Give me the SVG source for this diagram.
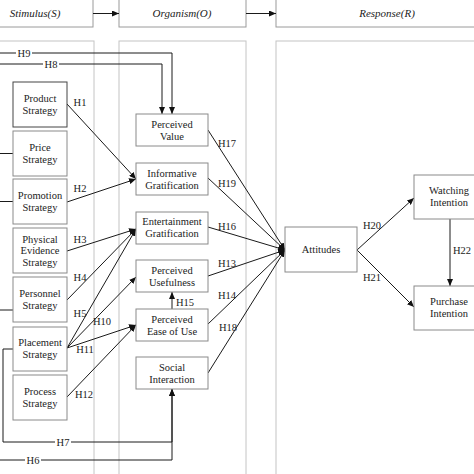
<svg xmlns="http://www.w3.org/2000/svg" width="474" height="474" viewBox="0 0 474 474">
<defs>
<marker id="ah" markerWidth="7" markerHeight="6" refX="7" refY="3" orient="auto" markerUnits="userSpaceOnUse">
<path d="M0,0 L7,3 L0,6 z" fill="#111"/>
</marker>
<style>
text{font-family:"Liberation Serif","Times New Roman",serif;font-size:10.5px;fill:#222;text-anchor:middle}
.hd{font-style:italic;font-size:11px}
.panel{fill:none;stroke:#c4c4c4;stroke-width:1}
.hbox{fill:#fff;stroke:#9a9a9a;stroke-width:1}
.node{fill:#fff;stroke:#8a8a8a;stroke-width:1}
.dark{stroke:#444}
.c{fill:none;stroke:#1a1a1a;stroke-width:1}
.a{marker-end:url(#ah)}
.lb{fill:#fff}
</style>
</defs>
<rect width="474" height="474" fill="#fff"/>

<g id="panels">
<rect class="panel" x="-5" y="41" width="99" height="440"/>
<rect class="panel" x="119" y="41" width="127" height="440"/>
<rect class="panel" x="276" y="41" width="210" height="440"/>
</g>

<g id="header">
<g id="hdr-s"><rect class="hbox" x="-5" y="-5" width="98" height="32"/><text class="hd" x="35" y="17">Stimulus(S)</text></g>
<g id="hdr-o"><rect class="hbox" x="119" y="-5" width="127" height="32"/><text class="hd" x="182" y="17">Organism(O)</text></g>
<g id="hdr-r"><rect class="hbox" x="276" y="-5" width="210" height="32"/><text class="hd" x="387" y="17">Response(R)</text></g>
</g>

<g id="connectors">
<path class="c a" d="M93,13.5 H119"/>
<path class="c a" d="M246,13.5 H276"/>
<path class="c a" d="M0,53 H172 V114"/>
<path class="c a" d="M0,64 H162 V114"/>
<path class="c" d="M0,153.5 H13"/>
<path class="c" d="M0,201.5 H13"/>
<path class="c" d="M0,310 H13"/>
<path class="c a" d="M67,104 L136,179"/>
<path class="c a" d="M67,202 L136,179"/>
<path class="c a" d="M67,251 L136,229"/>
<path class="c a" d="M67,300 L136,229"/>
<path class="c a" d="M67,348 L136,229"/>
<path class="c a" d="M67,348 L136,277"/>
<path class="c a" d="M67,348 L136,325"/>
<path class="c a" d="M67,397 L136,325"/>
<path class="c a" d="M13,349 H3 V442 H172 V389"/>
<path class="c a" d="M0,460 H172 V389"/>
<path class="c a" d="M172,309 V292"/>
<path class="c a" d="M208,130 L285,250"/>
<path class="c a" d="M208,178 L285,250"/>
<path class="c a" d="M208,227 L285,250"/>
<path class="c a" d="M208,276 L285,250"/>
<path class="c a" d="M208,324 L285,250"/>
<path class="c a" d="M208,373 L285,250"/>
<path class="c a" d="M357,250 L414,198"/>
<path class="c a" d="M357,250 L414,307"/>
<path class="c a" d="M450,219 V286"/>
</g>

<g id="labels">
<rect class="lb" x="16" y="48" width="16" height="10"/><text x="24" y="56.5">H9</text>
<rect class="lb" x="43" y="59" width="16" height="10"/><text x="51" y="67.5">H8</text>
<rect class="lb" x="55" y="437" width="16" height="10"/><text x="63" y="445.5">H7</text>
<rect class="lb" x="25" y="455" width="16" height="10"/><text x="33" y="463.5">H6</text>
<text x="80" y="105.5">H1</text>
<text x="80" y="191.5">H2</text>
<text x="80" y="242.5">H3</text>
<text x="80" y="280.5">H4</text>
<text x="80" y="316.5">H5</text>
<text x="102" y="324.5">H10</text>
<text x="85" y="352.5">H11</text>
<text x="84" y="398">H12</text>
<text x="185" y="305.5">H15</text>
<text x="227" y="146.5">H17</text>
<text x="227" y="186.5">H19</text>
<text x="227" y="229.5">H16</text>
<text x="227" y="266.5">H13</text>
<text x="227" y="298.5">H14</text>
<text x="228" y="330.5">H18</text>
<text x="372" y="228.5">H20</text>
<text x="372" y="280.5">H21</text>
<text x="462" y="253.5">H22</text>
</g>

<g id="product"><rect class="node dark" x="13" y="82" width="54" height="45"/><text x="40" y="101.5">Product</text><text x="40" y="113.5">Strategy</text></g>
<g id="price"><rect class="node" x="13" y="131" width="54" height="45"/><text x="40" y="150.5">Price</text><text x="40" y="162.5">Strategy</text></g>
<g id="promotion"><rect class="node" x="13" y="179" width="54" height="45"/><text x="40" y="198.5">Promotion</text><text x="40" y="210.5">Strategy</text></g>
<g id="physical"><rect class="node" x="13" y="228" width="54" height="45"/><text x="40" y="242.5">Physical</text><text x="40" y="254">Evidence</text><text x="40" y="266">Strategy</text></g>
<g id="personnel"><rect class="node" x="13" y="277" width="54" height="45"/><text x="40" y="296.5">Personnel</text><text x="40" y="308.5">Strategy</text></g>
<g id="placement"><rect class="node" x="13" y="327" width="54" height="44"/><text x="40" y="346">Placement</text><text x="40" y="358">Strategy</text></g>
<g id="process"><rect class="node" x="13" y="375" width="54" height="45"/><text x="40" y="394.5">Process</text><text x="40" y="406.5">Strategy</text></g>

<g id="perceived-value"><rect class="node" x="136" y="114" width="72" height="32"/><text x="172" y="127.5">Perceived</text><text x="172" y="139.5">Value</text></g>
<g id="informative"><rect class="node" x="136" y="163" width="72" height="32"/><text x="172" y="176.5">Informative</text><text x="172" y="188.5">Gratification</text></g>
<g id="entertainment"><rect class="node" x="136" y="212" width="72" height="32"/><text x="172" y="225">Entertainment</text><text x="172" y="237">Gratification</text></g>
<g id="usefulness"><rect class="node" x="136" y="260" width="72" height="32"/><text x="172" y="273.5">Perceived</text><text x="172" y="285.5">Usefulness</text></g>
<g id="ease-of-use"><rect class="node" x="136" y="309" width="72" height="32"/><text x="172" y="322.5">Perceived</text><text x="172" y="334.5">Ease of Use</text></g>
<g id="social"><rect class="node" x="136" y="357" width="72" height="32"/><text x="172" y="370.5">Social</text><text x="172" y="382.5">Interaction</text></g>

<g id="attitudes"><rect class="node" x="285" y="227" width="72" height="45"/><text x="321" y="253">Attitudes</text></g>
<g id="watching"><rect class="node" x="414" y="175" width="72" height="44"/><text x="449" y="194">Watching</text><text x="449" y="206">Intention</text></g>
<g id="purchase"><rect class="node" x="414" y="286" width="72" height="44"/><text x="449" y="305">Purchase</text><text x="449" y="317">Intention</text></g>
</svg>
